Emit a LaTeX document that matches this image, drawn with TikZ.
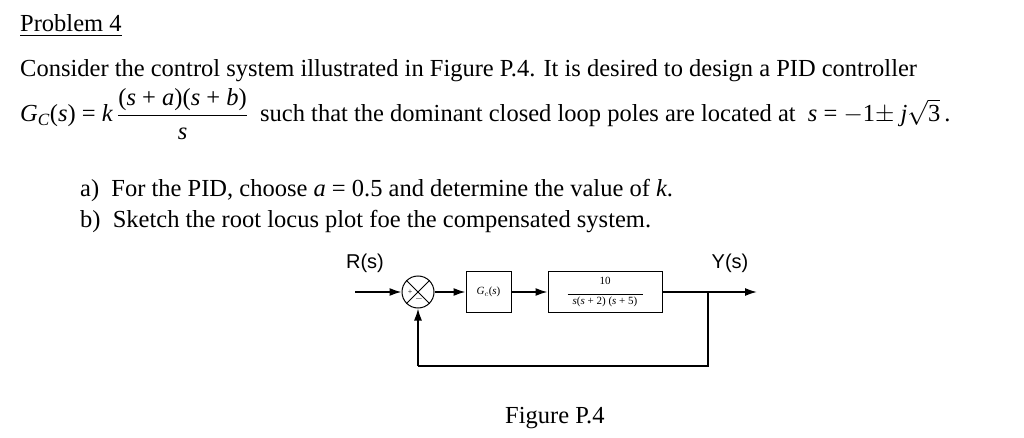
\documentclass[tikz,border=0pt]{standalone}
\usepackage{amsmath}
\usepackage{fontspec}
\setmainfont{Liberation Serif}
\newfontfamily\sansf{Liberation Sans}
\usetikzlibrary{arrows.meta}
\newcommand{\vi}[1]{\textit{#1}}
\begin{document}
\begin{tikzpicture}[x=1pt,y=-1pt,
  txt/.style={anchor=base west,inner sep=0pt,font=\fontsize{24.5}{29}\selectfont},
  blk/.style={draw,line width=1pt,minimum height=41pt},
  sig/.style={line width=1.6pt,-{Latex[length=12pt,width=8pt]}},
  ln/.style={line width=1.6pt}]
\useasboundingbox (0,0) rectangle (1024,438);
\node[txt] (p4) at (20,32) {\underline{Problem 4}};
\node[txt] (l1) at (20,77) {Consider the control system illustrated in Figure P.4. It is desired to design a PID controller};
\node[txt] (l2) at (20,122) {\vi{G}$_{\text{\textit{C}}}$(\vi{s}) = \vi{k}\,$\dfrac{\text{(\textit{s} + \textit{a})(\textit{s} + \textit{b})}}{\text{\textit{s}}}$\ \ such that the dominant closed loop poles are located at \ \vi{s} = $-$1$\pm$ \vi{j}$\sqrt{\text{3}}$\,.};
\node[txt] (la) at (80,197) {a)\ \ For the PID, choose \vi{a} = 0.5 and determine the value of \vi{k}.};
\node[txt] (lb) at (80,227) {b)\ \ Sketch the root locus plot foe the compensated system.};
\node[txt] (fig) at (505,423) {Figure P.4};
\node[font=\sansf\fontsize{20}{24}\selectfont] (R) at (365,263) {R(s)};
\node[font=\sansf\fontsize{20}{24}\selectfont] (Y) at (730,263) {Y(s)};
\node[draw,circle,line width=1pt,minimum size=32pt,inner sep=0pt] (S) at (418,292) {};
\draw[line width=1pt] (S.45)--(S.225) (S.135)--(S.315);
\node[font=\fontsize{8}{8}\selectfont] at (410,292) {+};
\node[font=\fontsize{10}{10}\selectfont] at (419,299) {$-$};
\node[blk,minimum width=45pt,font=\fontsize{11}{12}\selectfont] (G) at (488.5,292) {\vi{G$_c$}(\vi{s})};
\node[blk,minimum width=114pt,font=\fontsize{11}{12}\selectfont] (P) at (605,292) {\begin{tabular}{@{}c@{}}10\\[-2pt]\rule{75pt}{0.5pt}\\[-2pt]\vi{s}(\vi{s} + 2) (\vi{s} + 5)\end{tabular}};
\coordinate (in) at (355,292);
\coordinate (out) at (757,292);
\coordinate (br) at (708,292);
\coordinate (bb) at (708,366);
\coordinate (lb2) at (418,366);
\draw[sig] (in)--(S.west);
\draw[sig] (S.east)--(G.west);
\draw[sig] (G.east)--(P.west);
\draw[sig] (P.east)--(out);
\draw[ln] (br)--(bb)--(lb2);
\draw[sig] (lb2)--(S.south);
\end{tikzpicture}
\end{document}
